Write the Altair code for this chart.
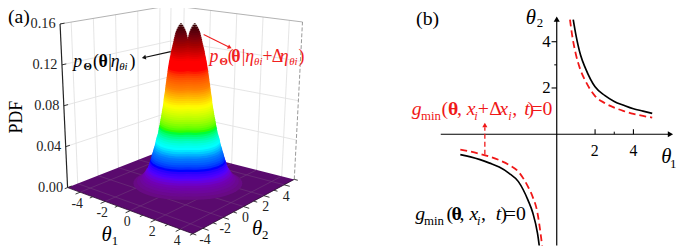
import altair as alt
import numpy as np
import pandas as pd

alt.data_transformers.disable_max_rows()

FONT = "Liberation Serif"

# ---------- panel (a) values ----------
PDF_LEVELS = [round(i * 0.002, 3) for i in range(81)]
HALF_WIDTH = [3.40, 3.18, 2.99, 2.87, 2.78, 2.69, 2.62, 2.53, 2.48, 2.44,
              2.40, 2.36, 2.32, 2.28, 2.25, 2.21, 2.17, 2.14, 2.10, 2.06,
              2.03, 2.01, 1.98, 1.94, 1.90, 1.86, 1.84, 1.82, 1.80, 1.77,
              1.75, 1.73, 1.71, 1.68, 1.66, 1.64, 1.62, 1.60, 1.58, 1.56,
              1.54, 1.53, 1.52, 1.50, 1.48, 1.46, 1.44, 1.43, 1.41, 1.40,
              1.38, 1.36, 1.35, 1.33, 1.31, 1.29, 1.28, 1.26, 1.24, 1.22,
              1.20, 1.18, 1.15, 1.13, 1.10, 1.08, 1.06, 1.03, 1.00, 0.97,
              0.94, 0.91, 0.89, 0.86, 0.83, 0.80, 0.76, 0.71, 0.65, 0.58, 0.50]
LOBE_OFFSET = 0.43
COLOR_LEVELS = [0, 0.003, 0.008, 0.015, 0.022, 0.033, 0.042, 0.057, 0.081, 0.098, 0.115, 0.125, 0.14, 0.16]
COLORS = ["#680a84", "#6c0896", "#7000b4", "#5000ff", "#0000ff", "#0080ff", "#00ffff",
          "#00ff00", "#ffff00", "#ff8000", "#ff0000", "#ff0000", "#a00000", "#300000"]
FLOOR = "#5a0a6e"
THETA_TICKS = [-4, -2, 0, 2, 4]
PDF_TICKS = [0.04, 0.08, 0.12]
PDF_TICK_LABELS = ["0.00", "0.04", "0.08", "0.12", "0.16"]
PDF_TICK_VALUES = [0, 0.04, 0.08, 0.12, 0.16]

# 3D view: corners of the box on the page
CORNER = {(-5, -5): (68.3, 188.3), (5, -5): (195, 235), (5, 5): (297.7, 180), (-5, 5): (171, 148)}
TOP = {(-5, -5): (60.7, 22.7), (5, -5): (193.7, 39.4), (5, 5): (306, 20.7), (-5, 5): (173, 4)}
PEAK_X, PEAK_Y, PX_PER_PDF, PX_PER_THETA, SQUASH = 190, 184, 1012, 16.2, 0.345


def project(t1, t2, z=0.0):
    u, v, w = (t1 + 5) / 10, (t2 + 5) / 10, z / 0.16
    def bil(c):
        return np.array(c[(-5, -5)]) * (1 - u) * (1 - v) + np.array(c[(5, -5)]) * u * (1 - v) \
            + np.array(c[(-5, 5)]) * (1 - u) * v + np.array(c[(5, 5)]) * u * v
    p = bil(CORNER) * (1 - w) + bil(TOP) * w
    return float(p[0]), float(p[1])


def seg_frame(segs):
    rows = []
    for i, seg in enumerate(segs):
        for p in seg:
            rows.append({"x": p[0], "y": p[1], "g": i})
    return pd.DataFrame(rows)


PAGE_BOTTOM = 247
XA = alt.Scale(domain=[8, 685], nice=False, zero=False)
YA = alt.Scale(domain=[PAGE_BOTTOM, 8], nice=False, zero=False)
W, H = 677, PAGE_BOTTOM - 8


def line_a(segs, color, width=1.0, dash=None):
    props = dict(color=color, strokeWidth=width)
    if dash:
        props["strokeDash"] = dash
    return alt.Chart(seg_frame(segs)).mark_line(**props).encode(
        x=alt.X("x:Q", scale=XA, axis=None),
        y=alt.Y("y:Q", scale=YA, axis=None),
        detail="g:N")


def text_layer(rows, size, sx, sy, color="black", style="normal", weight="normal", align="left", angle=None):
    df = pd.DataFrame(rows, columns=["t", "x", "y"])
    props = dict(font=FONT, fontSize=size, color=color, fontStyle=style, fontWeight=weight,
                 align=align, baseline="alphabetic")
    if angle is not None:
        props["angle"] = angle
    return alt.Chart(df).mark_text(**props).encode(
        x=alt.X("x:Q", scale=sx, axis=None),
        y=alt.Y("y:Q", scale=sy, axis=None),
        text="t:N")


def tri(x, y, angle, color, size, sx, sy):
    return alt.Chart(pd.DataFrame({"x": [x], "y": [y]})).mark_point(
        shape="triangle-up", filled=True, opacity=1, color=color, size=size, angle=angle
    ).encode(x=alt.X("x:Q", scale=sx, axis=None), y=alt.Y("y:Q", scale=sy, axis=None))


# walls
walls = []
for t in THETA_TICKS:
    walls.append([project(-5, t, 0), project(-5, t, 0.16)])
    walls.append([project(t, 5, 0), project(t, 5, 0.16)])
for z in PDF_TICKS:
    walls.append([project(-5, -5, z), project(-5, 5, z), project(5, 5, z)])
walls.append([project(-5, 5, 0), project(-5, 5, 0.16)])
grid = line_a(walls, "#e2e2e2", 0.9)
frame = line_a([[project(-5, -5, 0.16), project(-5, 5, 0.16), project(5, 5, 0.16)]], "#a8a8a8", 0.9)
corner_r = line_a([[project(5, 5, 0), project(5, 5, 0.16)]], "#8c8c8c", 0.9, dash=[4, 2])

# floor polygon
L, F, R, B = project(-5, -5), project(5, -5), project(5, 5), project(-5, 5)
xs = sorted([L[0], B[0], F[0], R[0]])
upper = np.interp(xs, [L[0], B[0], R[0]], [L[1], B[1], R[1]])
lower = np.interp(xs, [L[0], F[0], R[0]], [L[1], F[1], R[1]])
floor = alt.Chart(pd.DataFrame({"x": xs, "y": upper, "y2": lower})).mark_area(color=FLOOR, opacity=1).encode(
    x=alt.X("x:Q", scale=XA, axis=None),
    y=alt.Y("y:Q", scale=YA, axis=None, stack=None),
    y2="y2:Q")

fg = []
for t in THETA_TICKS:
    fg.append([project(t, -5), project(t, 5)])
    fg.append([project(-5, t), project(5, t)])
floor_grid = line_a(fg, "#6f3a7b", 0.6)

# surface: stacked level rings
rows = []
c = np.linspace(np.pi, 0, 26)
for i, (z, w) in enumerate(zip(PDF_LEVELS, HALF_WIDTH)):
    r = max(w - LOBE_OFFSET, 0.02) * PX_PER_THETA
    cy = PEAK_Y - z * PX_PER_PDF
    for k, side in enumerate((-1, 1)):
        cx = PEAK_X + side * LOBE_OFFSET * PX_PER_THETA
        for a in c:
            rows.append({"x": round(cx + r * np.cos(a), 2),
                         "y": round(cy - r * SQUASH * np.sin(a), 2),
                         "y2": round(cy + r * SQUASH * np.sin(a), 2),
                         "z": z, "g": i * 2 + k})
surface = alt.Chart(pd.DataFrame(rows)).mark_area(opacity=1, strokeWidth=0).encode(
    x=alt.X("x:Q", scale=XA, axis=None),
    y=alt.Y("y:Q", scale=YA, axis=None, stack=None),
    y2="y2:Q",
    color=alt.Color("z:Q", scale=alt.Scale(domain=COLOR_LEVELS, range=COLORS), legend=None),
    detail="g:N")

# axis lines and ticks
edge = line_a([[L, F, R]], "#2a0a30", 0.8)
z_axis = line_a([[project(-5, -5, 0), project(-5, -5, 0.16)]], "#222222", 1.2)
ticks = []
for t in range(-5, 6):
    ln = 0.45 if t % 2 == 0 else 0.28
    ticks.append([project(t, -5), project(t, -5 - ln)])
    ticks.append([project(5, t), project(5 + ln, t)])
for z in PDF_TICK_VALUES:
    ticks.append([project(-5, -5, z), project(-5, -4.6, z)])
tick_lines = line_a(ticks, "#222222", 0.9)

# tick labels of panel a
z_labs = []
for s, z in zip(PDF_TICK_LABELS, PDF_TICK_VALUES):
    p = project(-5, -5, z)
    z_labs.append((s, p[0] - 4.5, p[1] + 4.5))
t1_labs = []
t2_labs = []
for t in THETA_TICKS:
    p = project(t, -5)
    t1_labs.append((f"{t}", p[0] - 3, p[1] + 16))
    p = project(5, t)
    t2_labs.append((f"{t}", p[0] + 2, p[1] + 16))

sa = dict(sx=XA, sy=YA)
black_lbl_y, red_lbl_y = 66, 61
panel_a_text = [
    text_layer(z_labs, 14.5, align="right", color="#222222", **sa),
    text_layer(t1_labs, 14, align="center", color="#222222", **sa),
    text_layer(t2_labs, 14, align="center", color="#222222", **sa),
    text_layer([("(a)", 8, 22)], 20, **sa),
    text_layer([("PDF", 22, 117)], 18, align="center", angle=270, **sa),
    text_layer([("θ", 102.5, 242), ("θ", 255, 236)], 21, style="italic", **sa),
    text_layer([("1", 113, 246), ("2", 265, 240)], 13, **sa),
    # black label
    text_layer([("p", 74, black_lbl_y), ("η", 112, black_lbl_y)], 18, style="italic", **sa),
    text_layer([("Θ", 84.5, black_lbl_y + 3)], 11, weight="bold", **sa),
    text_layer([("(", 94, black_lbl_y), ("|", 109.5, black_lbl_y), (")", 131, black_lbl_y)], 18, **sa),
    text_layer([("θ", 99.5, black_lbl_y)], 18, weight="bold", **sa),
    text_layer([("θi", 120.5, black_lbl_y + 3)], 11, style="italic", **sa),
    # red label
    text_layer([("p", 212, red_lbl_y), ("η", 248, red_lbl_y), ("η", 283, red_lbl_y)], 18,
               style="italic", color="#f02020", **sa),
    text_layer([("Θ", 222, red_lbl_y + 3)], 11, weight="bold", color="#f02020", **sa),
    text_layer([("(", 230.5, red_lbl_y), ("|", 244.5, red_lbl_y), ("+", 265.5, red_lbl_y),
                ("Δ", 275, red_lbl_y), (")", 302, red_lbl_y)], 18, color="#f02020", **sa),
    text_layer([("θ", 234, red_lbl_y)], 18, weight="bold", color="#f02020", **sa),
    text_layer([("θi", 257, red_lbl_y + 3), ("θi", 292.5, red_lbl_y + 3)], 11, style="italic",
               color="#f02020", **sa),
]

arrow_black = line_a([[(172.7, 50.7), (146, 56.6)]], "#111111", 1.1)
arrow_red = line_a([[(206, 33.3), (232, 46.2)]], "#f02020", 1.1)
head_black = tri(145.5, 56.7, 258, "#111111", 22, XA, YA)
head_red = tri(232.5, 46.5, 116, "#f02020", 22, XA, YA)

panel_a = alt.layer(grid, frame, corner_r, floor, floor_grid, edge, surface, z_axis, tick_lines,
                    arrow_black, arrow_red, head_black, head_red, *panel_a_text)

# ---------- panel (b) values ----------
BLACK_UP_T1 = [0.86, 1.0, 1.25, 1.5, 2.0, 2.5, 3.0, 3.5, 4.0, 4.5, 4.98]
BLACK_UP_T2 = [4.96, 4.30, 3.40, 2.85, 2.05, 1.68, 1.42, 1.25, 1.10, 1.00, 0.90]
RED_UP_T1 = [0.69, 0.80, 1.0, 1.25, 1.5, 2.0, 2.5, 3.0, 3.5, 4.0, 4.5, 4.98]
RED_UP_T2 = [4.96, 4.30, 3.45, 2.75, 2.30, 1.65, 1.35, 1.15, 1.00, 0.88, 0.79, 0.72]
BLACK_LO_T1 = [-5.03, -4.5, -4.0, -3.5, -3.0, -2.5, -2.0, -1.5, -1.25, -1.0, -0.89]
BLACK_LO_T2 = [-0.88, -0.98, -1.10, -1.25, -1.42, -1.68, -2.05, -2.85, -3.40, -4.30, -4.96]
RED_LO_T1 = [-5.03, -4.5, -4.0, -3.5, -3.0, -2.5, -2.0, -1.5, -1.25, -1.0, -0.85, -0.74]
RED_LO_T2 = [-0.67, -0.75, -0.85, -0.97, -1.12, -1.32, -1.62, -2.27, -2.72, -3.42, -4.25, -4.96]
X_MAJOR = [2, 4]
Y_MAJOR = [2, 4]
X_MINOR = [3]
Y_MINOR = [3]

XB = alt.Scale(domain=[(8 - 563.3) / 19.4, (685 - 563.3) / 19.4], nice=False, zero=False)
YB = alt.Scale(domain=[(134.3 - PAGE_BOTTOM) / 23.4, (134.3 - 8) / 23.4], nice=False, zero=False)
LOW = (134.3 - PAGE_BOTTOM) / 23.4


def bx(px):
    return (px - 563.3) / 19.4


def by(py):
    return (134.3 - py) / 23.4


def curve(xv, yv, color, width, dash=None):
    keep = [(a, b) for a, b in zip(xv, yv) if b >= LOW - 0.3]
    xv = [k[0] for k in keep]
    yv = [k[1] for k in keep]
    props = dict(color=color, strokeWidth=width, interpolate="monotone", clip=True)
    if dash:
        props["strokeDash"] = dash
    return alt.Chart(pd.DataFrame({"a": xv, "b": yv})).mark_line(**props).encode(
        x=alt.X("a:Q", scale=XB, axis=None, sort=None),
        y=alt.Y("b:Q", scale=YB, axis=None),
        order=alt.Order("a:Q"))


def rule_b(x1, y1, x2, y2, color="black", width=1.2, dash=None):
    props = dict(color=color, strokeWidth=width)
    if dash:
        props["strokeDash"] = dash
    return alt.Chart(pd.DataFrame({"a": [x1], "b": [y1], "a2": [x2], "b2": [y2]})).mark_rule(**props).encode(
        x=alt.X("a:Q", scale=XB, axis=None), x2="a2:Q",
        y=alt.Y("b:Q", scale=YB, axis=None), y2="b2:Q")


sb = dict(sx=XB, sy=YB)


def tb(rows, size, **kw):
    return text_layer([(t, bx(x), by(y)) for t, x, y in rows], size, **sb, **kw)


RED = "#f01818"
g_y, g_sub = 115, 119.5
k_y, k_sub = 221.5, 226
panel_b_layers = [
    rule_b(-6.05, 0, 5.9, 0),
    rule_b(0, LOW, 0, 4.95),
    tri(5.93, 0, 90, "black", 38, XB, YB),
    tri(0, 4.98, 0, "black", 38, XB, YB),
]
for v in X_MAJOR:
    panel_b_layers.append(rule_b(v, 0, v, 0.22, width=1.1))
for v in X_MINOR:
    panel_b_layers.append(rule_b(v, 0, v, 0.11, width=1.0))
for v in Y_MAJOR:
    panel_b_layers.append(rule_b(0, v, -0.27, v, width=1.1))
for v in Y_MINOR:
    panel_b_layers.append(rule_b(0, v, -0.13, v, width=1.0))
panel_b_layers += [
    curve(BLACK_UP_T1, BLACK_UP_T2, "black", 1.7),
    curve(BLACK_LO_T1, BLACK_LO_T2, "black", 1.7),
    curve(RED_UP_T1, RED_UP_T2, RED, 1.8, dash=[7, 4]),
    curve(RED_LO_T1, RED_LO_T2, RED, 1.8, dash=[7, 4]),
    rule_b(-3.75, -0.88, -3.75, 0.3, color=RED, width=1.3, dash=[5, 3]),
    tri(-3.75, 0.4, 0, RED, 26, XB, YB),
    tb([("(b)", 421, 24)], 20),
    tb([("θ", 532, 22.5), ("θ", 669, 163)], 21, style="italic"),
    tb([("2", 543, 26), ("1", 678, 168)], 13),
    tb([("4", 553, 46.5), ("2", 553, 93)], 17, align="center"),
    tb([("2", 601.7, 156), ("4", 641, 156)], 16, align="center"),
    # red formula
    tb([("g", 416.7, g_y), ("x", 472.3, g_y), ("x", 505, g_y), ("t", 530.3, g_y)], 20, style="italic", color=RED),
    tb([("min", 426, g_sub)], 13, color=RED),
    tb([("i", 479.7, g_sub), ("i", 514.3, g_sub)], 12.5, style="italic", color=RED),
    tb([("(", 446.7, g_y), (",", 462.3, g_y), ("+", 483.3, g_y), ("Δ", 495, g_y), (",", 518.3, g_y),
        (")", 533.7, g_y), ("=0", 537.7, g_y)], 20, color=RED),
    tb([("θ", 453.3, g_y)], 20, weight="bold", color=RED),
    # black formula
    tb([("g", 420, k_y), ("x", 475, k_y), ("t", 501.7, k_y)], 20, style="italic"),
    tb([("min", 429, k_sub)], 13),
    tb([("i", 482.7, k_sub)], 12.5, style="italic"),
    tb([("(", 451.7, k_y), (",", 465, k_y), (",", 486.7, k_y), (")", 506.3, k_y), ("=0", 510.7, k_y)], 20),
    tb([("θ", 456.7, k_y)], 20, weight="bold"),
]
panel_b = alt.layer(*panel_b_layers)

chart = alt.layer(panel_a, panel_b).resolve_scale(x="independent", y="independent").properties(
    width=W, height=H, padding=0,
    autosize=alt.AutoSizeParams(type="none", contains="padding")
).configure_view(stroke=None)
chart.save("out.html", embed_options={"renderer": "svg", "actions": False})
